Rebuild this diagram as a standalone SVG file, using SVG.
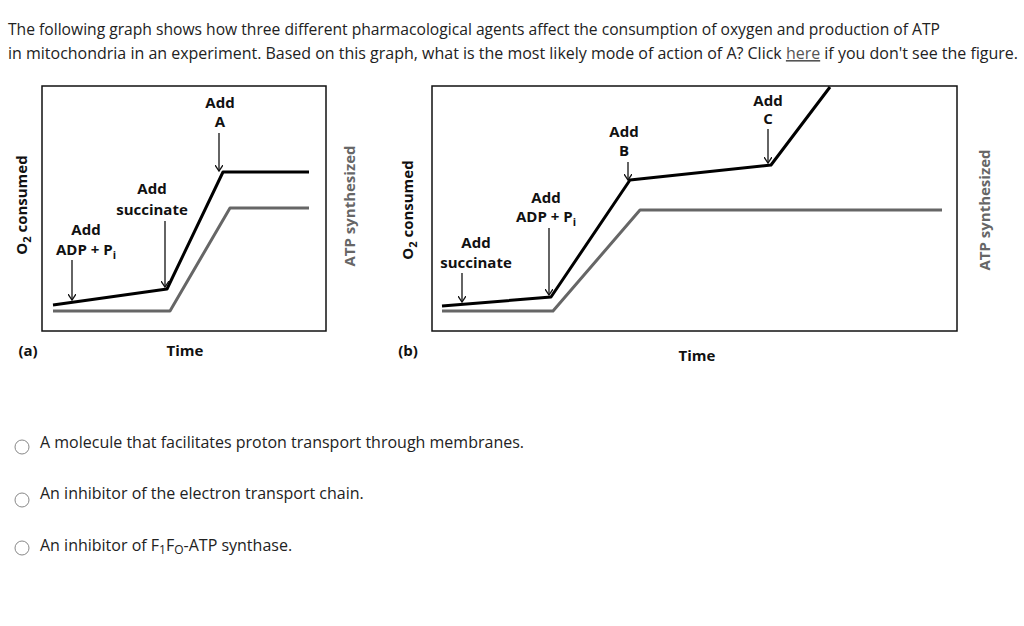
<svg xmlns="http://www.w3.org/2000/svg" width="1024" height="626" viewBox="0 0 1024 626">
<style>
.q{font-family:"Open Sans",sans-serif;font-size:16px;fill:#222}
.g{font-family:"Open Sans",sans-serif;font-size:15px;font-weight:bold;fill:#111;text-anchor:middle}
.box{fill:none;stroke:#111;stroke-width:1.5}
.bk{fill:none;stroke:#000;stroke-width:3;stroke-linejoin:round}
.gr{fill:none;stroke:#666;stroke-width:3;stroke-linejoin:round}
.ar{stroke:#111;stroke-width:1.3;marker-end:url(#ah)}
.opt{fill:#fff;stroke:#888;stroke-width:1}
</style>
<defs><marker id="ah" markerWidth="8" markerHeight="8" refX="6" refY="4" orient="auto" markerUnits="userSpaceOnUse"><path d="M0,0 L6,4 L0,8" fill="none" stroke="#111" stroke-width="1.3"/></marker></defs>
<rect width="1024" height="626" fill="#fff"/>
<text class="q" x="8" y="35" textLength="932" lengthAdjust="spacingAndGlyphs">The following graph shows how three different pharmacological agents affect the consumption of oxygen and production of ATP</text>
<text class="q" x="8" y="59" textLength="1010" lengthAdjust="spacingAndGlyphs">in mitochondria in an experiment. Based on this graph, what is the most likely mode of action of A? Click <tspan fill="#555" text-decoration="underline">here</tspan> if you don't see the figure.</text>
<g id="graphA">
<rect class="box" x="42" y="86" width="284" height="245"/>
<path class="gr" d="M53,311 L170,311 L230,208 L309,208"/>
<path class="bk" d="M53,305 L167,289 L223,172 L309,172"/>
<text class="g" x="86" y="235">Add</text>
<text class="g" x="86" y="255">ADP + P<tspan font-size="11" dy="4">i</tspan></text>
<text class="g" x="152" y="194">Add</text>
<text class="g" x="152" y="215">succinate</text>
<text class="g" x="220" y="108">Add</text>
<text class="g" x="220" y="127">A</text>
<text class="g" transform="translate(27,205) rotate(-90)">O<tspan font-size="11" dy="4">2</tspan><tspan dy="-4"> consumed</tspan></text>
<text class="g" style="fill:#666" transform="translate(355,206) rotate(-90)">ATP synthesized</text>
<text class="g" x="28" y="356">(a)</text>
<text class="g" x="185" y="356">Time</text>
</g>
<g id="graphB">
<rect class="box" x="432" y="86" width="525" height="245"/>
<path class="gr" d="M442,311 L553,311 L640,210 L942,210"/>
<path class="bk" d="M442,306 L551,297 L630,180 L771,165 L830,87"/>
<text class="g" x="476" y="248">Add</text>
<text class="g" x="476" y="268">succinate</text>
<text class="g" x="546" y="203">Add</text>
<text class="g" x="546" y="222">ADP + P<tspan font-size="11" dy="4">i</tspan></text>
<text class="g" x="624" y="137">Add</text>
<text class="g" x="624" y="156">B</text>
<text class="g" x="768" y="106">Add</text>
<text class="g" x="768" y="124" font-size="14">C</text>
<text class="g" transform="translate(413,210) rotate(-90)">O<tspan font-size="11" dy="4">2</tspan><tspan dy="-4"> consumed</tspan></text>
<text class="g" style="fill:#666" transform="translate(990,210) rotate(-90)">ATP synthesized</text>
<text class="g" x="408" y="356">(b)</text>
<text class="g" x="697" y="361">Time</text>
</g>
<g id="connectors">
<line class="ar" x1="72" y1="260" x2="72" y2="300"/>
<line class="ar" x1="165" y1="221" x2="165" y2="287"/>
<line class="ar" x1="219" y1="133" x2="219" y2="171"/>
<line class="ar" x1="462" y1="273" x2="462" y2="302"/>
<line class="ar" x1="549" y1="228" x2="549" y2="295"/>
<line class="ar" x1="628" y1="162" x2="628" y2="180"/>
<line class="ar" x1="768" y1="129" x2="768" y2="163"/>
</g>
<g id="options">
<circle class="opt" cx="22" cy="447" r="7"/>
<text class="q" x="40" y="448">A molecule that facilitates proton transport through membranes.</text>
<circle class="opt" cx="22" cy="500" r="7"/>
<text class="q" x="40" y="499">An inhibitor of the electron transport chain.</text>
<circle class="opt" cx="22" cy="548" r="7"/>
<text class="q" x="40" y="551">An inhibitor of F<tspan font-size="12" dy="3">1</tspan><tspan dy="-3">F</tspan><tspan font-size="12" dy="3">O</tspan><tspan dy="-3">-ATP synthase.</tspan></text>
</g>
</svg>
